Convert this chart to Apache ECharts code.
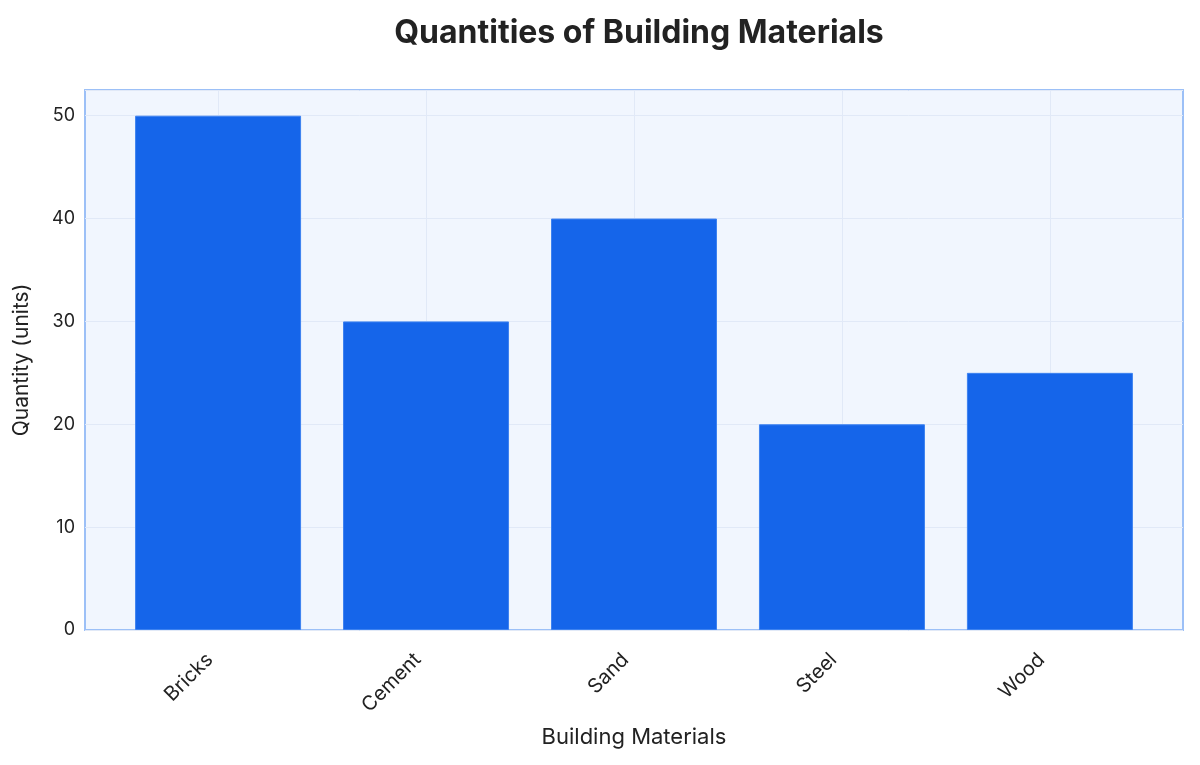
<!DOCTYPE html>
<html>
<head>
<meta charset="utf-8">
<script src="https://cdn.jsdelivr.net/npm/echarts@6/dist/echarts.min.js"></script>
<style>
  html, body { margin: 0; padding: 0; background: #fff; }
  #chart { width: 1200px; height: 765px; }
</style>
</head>
<body>
<div id="chart"></div>
<script>
  var materials = ['Bricks', 'Cement', 'Sand', 'Steel', 'Wood']
  var quantities = [50, 30, 40, 20, 25]
  var yTicks = [0, 10, 20, 30, 40, 50]

  var positions = materials.map(function (m, i) { return i })
  var barData = quantities.map(function (q, i) { return [i, q] })

  var chart = echarts.init(document.getElementById('chart'))
  var option = {
    backgroundColor: '#ffffff',
    textStyle: { fontFamily: 'Inter' },
    title: {
      text: 'Quantities of Building Materials',
      left: 634,
      textAlign: 'center',
      top: 12,
      textStyle: { fontSize: 32, fontWeight: 'bold', color: '#222222', fontFamily: 'Inter' }
    },
    grid: {
      left: 85,
      right: 17,
      top: 90,
      bottom: 135,
      show: true,
      backgroundColor: '#f1f6fe',
      borderColor: '#9cc0f7',
      borderWidth: 2
    },
    xAxis: {
      type: 'value',
      min: -0.64,
      max: 4.64,
      name: 'Building Materials',
      nameLocation: 'middle',
      nameGap: 96,
      nameTextStyle: { fontSize: 22, color: '#222222' },
      axisLine: { show: false },
      axisTick: { show: false, customValues: positions },
      axisLabel: {
        customValues: positions,
        rotate: 45,
        fontSize: 20,
        color: '#222222',
        margin: 18,
        padding: [0, 12, 0, 0],
        formatter: function (v) { return materials[Math.round(v)] }
      },
      splitLine: { show: true, lineStyle: { color: '#e1e9f7', width: 1 } }
    },
    yAxis: {
      type: 'value',
      min: 0,
      max: 52.5,
      interval: 10,
      name: 'Quantity (units)',
      nameLocation: 'middle',
      nameGap: 53,
      nameTextStyle: { fontSize: 21, color: '#222222' },
      axisLine: { show: false },
      axisTick: { show: false },
      axisLabel: {
        fontSize: 18,
        color: '#222222',
        margin: 10,
        formatter: function (v) { return yTicks.indexOf(v) >= 0 ? String(v) : '' }
      },
      splitLine: { show: true, lineStyle: { color: '#e1e9f7', width: 1 } }
    },
    series: [
      {
        type: 'bar',
        data: barData,
        barWidth: 166,
        itemStyle: { color: '#1565ea', borderColor: '#3d82f0', borderWidth: 1 }
      }
    ]
  }
  chart.setOption(option)
</script>
</body>
</html>
